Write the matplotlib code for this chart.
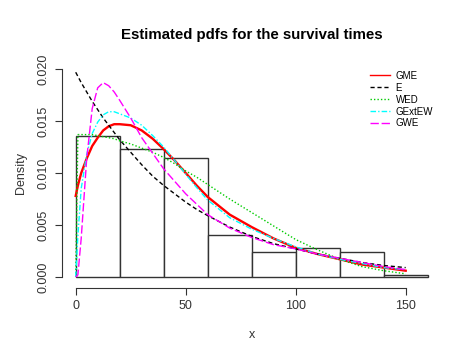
import matplotlib
matplotlib.use("Agg")
import matplotlib.pyplot as plt
import numpy as np

plt.rcParams['font.family'] = ['Liberation Sans', 'DejaVu Sans']

# histogram of survival times (density scale)
bin_edges = [0, 20, 40, 60, 80, 100, 120, 140, 160]
hist_density = [0.01355, 0.0123, 0.01143, 0.0040, 0.00236, 0.00275, 0.00236, 0.00022]

# fitted pdfs
x_pts = [0, 1, 2.5, 5, 7.5, 10, 12.5, 15, 17.5, 20, 25, 30, 35, 40, 45, 50, 55, 60,
         70, 80, 90, 100, 110, 120, 130, 140, 150]
gme = [0.0078, 0.0088, 0.0100, 0.0114, 0.0126, 0.0134, 0.0141, 0.0145, 0.0147, 0.0147,
       0.0146, 0.0141, 0.0133, 0.0123, 0.0112, 0.0100, 0.0088, 0.0077,
       0.0060, 0.0048, 0.0037, 0.0028, 0.0022, 0.0017, 0.0012, 0.0009, 0.0006]
e_pdf = [0.0197, 0.0193, 0.0187, 0.0178, 0.0169, 0.0161, 0.0153, 0.0146, 0.0139, 0.0132,
         0.0120, 0.0108, 0.0097, 0.0088, 0.0080, 0.0072, 0.0065, 0.0059,
         0.0048, 0.0039, 0.0032, 0.0027, 0.0022, 0.0018, 0.0014, 0.0011, 0.0009]
wed = [0.0000, 0.0137, 0.0137, 0.0137, 0.0137, 0.0136, 0.0135, 0.0134, 0.0133, 0.0131,
       0.0128, 0.0124, 0.0120, 0.0115, 0.0109, 0.0102, 0.0096, 0.0089,
       0.0075, 0.0062, 0.0049, 0.0036, 0.0026, 0.0017, 0.0010, 0.0006, 0.0003]
gextew = [0.0000, 0.0040, 0.0085, 0.0118, 0.0138, 0.0149, 0.0156, 0.0159, 0.0159, 0.0157,
          0.0153, 0.0146, 0.0136, 0.0125, 0.0112, 0.0099, 0.0086, 0.0074,
          0.0057, 0.0046, 0.0037, 0.0029, 0.0022, 0.0017, 0.0013, 0.0009, 0.0007]
gwe = [0.0000, 0.0002, 0.0037, 0.0114, 0.0162, 0.0182, 0.0187, 0.0184, 0.0178, 0.0170,
       0.0153, 0.0134, 0.0119, 0.0104, 0.0092, 0.0080, 0.0070, 0.0060,
       0.0047, 0.0038, 0.0031, 0.0027, 0.0022, 0.0018, 0.0014, 0.0010, 0.0007]

fig = plt.figure(figsize=(4.74, 3.62), dpi=100)
ax = fig.add_axes([0.130, 0.212, 0.802, 0.620])

widths = np.diff(bin_edges)
ax.bar(bin_edges[:-1], hist_density, width=widths, align='edge',
       facecolor='white', edgecolor='#333333', linewidth=1.0, zorder=1)

ax.plot(x_pts, gme, color='red', lw=1.7, label='GME', zorder=3)
ax.plot(x_pts, e_pdf, color='black', lw=1.0, ls=(0, (3, 2)), label='E', zorder=3)
ax.plot(x_pts, wed, color='#00cc00', lw=1.0, ls=(0, (1, 1.5)), label='WED', zorder=3)
ax.plot(x_pts, gextew, color='cyan', lw=1.0, ls=(0, (4, 1.5, 1, 1.5)), label='GExtEW', zorder=3)
ax.plot(x_pts, gwe, color='magenta', lw=1.0, ls=(0, (6, 2)), label='GWE', zorder=3)

ax.set_xlim(-6.4, 166.4)
ax.set_ylim(-0.0008, 0.0208)
ax.set_xticks([0, 50, 100, 150])
ax.set_yticks([0, 0.005, 0.010, 0.015, 0.020])
ax.set_yticklabels(['0.000', '0.005', '0.010', '0.015', '0.020'], rotation=90, va='center')
ax.tick_params(labelsize=9, length=5, color='#333333', labelcolor='#333333')

for s in ['top', 'right']:
    ax.spines[s].set_visible(False)
ax.spines['left'].set_bounds(0, 0.020)
ax.spines['bottom'].set_bounds(0, 150)
ax.spines['bottom'].set_position(('outward', 2))
for s in ['left', 'bottom']:
    ax.spines[s].set_color('#333333')

ax.set_xlabel('x', fontsize=9, color='#333333', labelpad=12)
ax.set_ylabel('Density', fontsize=9, color='#333333', labelpad=8)
ax.set_title('Estimated pdfs for the survival times', fontsize=10.8, fontweight='bold', pad=16)

leg = ax.legend(loc='upper right', bbox_to_anchor=(1.0, 0.995), frameon=False, fontsize=7,
                handlelength=2.0, labelspacing=0.2, handletextpad=0.6)
for line in leg.get_lines():
    line.set_linewidth(1.0)

fig.savefig('out.png', dpi=100, facecolor='white')
